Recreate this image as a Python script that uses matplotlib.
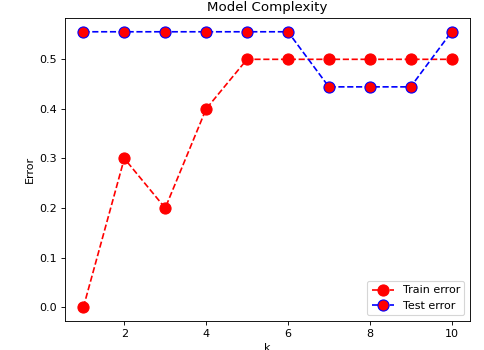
import matplotlib
matplotlib.use("Agg")
import matplotlib.pyplot as plt

k = [1, 2, 3, 4, 5, 6, 7, 8, 9, 10]
train_error = [0.0, 0.3, 0.2, 0.4, 0.5, 0.5, 0.5, 0.5, 0.5, 0.5]
test_error = [5/9, 5/9, 5/9, 5/9, 5/9, 5/9, 4/9, 4/9, 4/9, 5/9]

DPI = 80
fig = plt.figure(figsize=(484/DPI, 350/DPI), dpi=DPI)
ax = fig.add_axes([65/484, 1 - 321/350, 405/484, 303/350])
ax.plot(k, train_error, 'r--', marker='o', markersize=10, markerfacecolor='red',
        markeredgecolor='red', label='Train error')
ax.plot(k, test_error, 'b--', marker='o', markersize=10, markerfacecolor='red',
        markeredgecolor='blue', label='Test error')
ax.set_title('Model Complexity')
ax.set_xlabel('k')
ax.set_ylabel('Error')
ax.set_xticks([2, 4, 6, 8, 10])
ax.legend(loc='lower right')
fig.savefig('out.png', dpi=DPI)
